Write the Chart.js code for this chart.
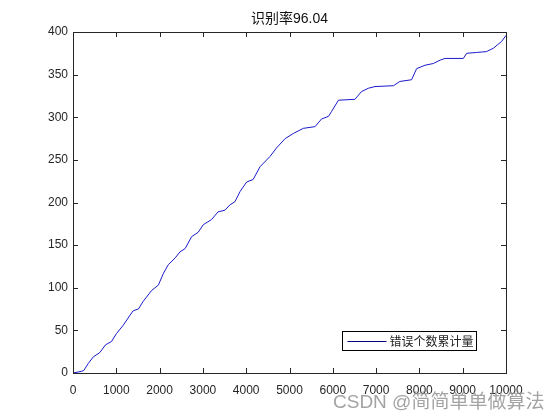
<!DOCTYPE html>
<html>
<head>
<meta charset="utf-8">
<script src="https://cdn.jsdelivr.net/npm/chart.js@4"></script>
<style>
  html, body { margin: 0; padding: 0; background: #fff; }
  #wrap { width: 560px; height: 420px; }
</style>
</head>
<body>
<div id="wrap"><canvas id="errChart" width="560" height="420"></canvas></div>
<script>
// cumulative error count
const sampleIdx = [0, 200, 250, 350, 470, 620, 750, 890, 1000, 1160, 1320, 1390, 1510, 1620, 1820, 1970, 2090, 2200, 2360, 2470, 2590, 2740, 2890, 3010, 3200, 3350, 3510, 3620, 3740, 3860, 4010, 4160, 4320, 4550, 4700, 4900, 5090, 5320, 5590, 5740, 5900, 5975, 6130, 6510, 6660, 6820, 6975, 7400, 7550, 7820, 7935, 8130, 8320, 8480, 8590, 9015, 9090, 9320, 9550, 9710, 9900, 10000];
const errCount = [0, 2, 3, 11, 19, 24, 33, 37, 46, 56, 68, 73, 75, 84, 97, 103, 117, 127, 135, 142, 146, 160, 165, 174, 180, 189, 191, 197, 201, 213, 224, 227, 242, 254, 264, 275, 281, 287, 289, 298, 301, 307, 320, 321, 330, 334, 336, 337, 342, 344, 357, 361, 363, 367, 369, 369, 375, 376, 377, 381, 389, 396];
const xTicks = [0, 1000, 2000, 3000, 4000, 5000, 6000, 7000, 8000, 9000, 10000];
const yTicks = [0, 50, 100, 150, 200, 250, 300, 350, 400];
const seriesName = '错误个数累计量';
const chartTitle = '识别率96.04';
const watermark = 'CSDN @简简单单做算法';

const points = sampleIdx.map((x, i) => ({ x: x, y: errCount[i] }));

// matlab style box: inward ticks on all four sides, title, legend inside, watermark
const matlabBox = {
    id: 'matlabBox',
    afterDraw(chart) {
        const ctx = chart.ctx;
        const a = chart.chartArea;
        const xs = chart.scales.x, ys = chart.scales.y;
        ctx.save();
        ctx.strokeStyle = '#262626';
        ctx.lineWidth = 1;
        ctx.beginPath();
        xTicks.forEach(v => {
            const px = Math.round(xs.getPixelForValue(v)) + 0.5;
            ctx.moveTo(px, a.bottom); ctx.lineTo(px, a.bottom - 5);
            ctx.moveTo(px, a.top); ctx.lineTo(px, a.top + 5);
        });
        yTicks.forEach(v => {
            const py = Math.round(ys.getPixelForValue(v)) + 0.5;
            ctx.moveTo(a.left, py); ctx.lineTo(a.left + 5, py);
            ctx.moveTo(a.right, py); ctx.lineTo(a.right - 5, py);
        });
        ctx.stroke();
        ctx.strokeRect(Math.round(a.left) + 0.5, Math.round(a.top) + 0.5,
            Math.round(a.right - a.left), Math.round(a.bottom - a.top));

        // title over the axes box
        ctx.fillStyle = '#111';
        ctx.font = '14px "Liberation Sans", "Noto Sans CJK SC"';
        ctx.textAlign = 'center';
        ctx.textBaseline = 'alphabetic';
        ctx.fillText(chartTitle, (a.left + a.right) / 2, 23);

        // legend box
        const lx = 342.5, ly = 331.5, lw = 134, lh = 19;
        ctx.fillStyle = '#fff';
        ctx.fillRect(lx, ly, lw, lh);
        ctx.strokeStyle = '#000';
        ctx.strokeRect(lx, ly, lw, lh);
        ctx.strokeStyle = '#000080';
        ctx.beginPath();
        ctx.moveTo(lx + 5, ly + 10); ctx.lineTo(lx + 44, ly + 10);
        ctx.stroke();
        ctx.fillStyle = '#222';
        ctx.font = '12px "Noto Sans CJK SC"';
        ctx.textBaseline = 'middle';
        ctx.textAlign = 'left';
        ctx.fillText(chart.data.datasets[0].label, lx + 47, ly + 10);

        // watermark
        ctx.fillStyle = 'rgba(140,140,140,0.8)';
        ctx.font = '19px "Liberation Sans", "Noto Sans CJK SC"';
        ctx.textBaseline = 'alphabetic';
        ctx.fillText(watermark, 333, 408);
        ctx.restore();
    }
};

const tickFont = { family: '"Liberation Sans", Arial', size: 12 };

new Chart(document.getElementById('errChart').getContext('2d'), {
    type: 'line',
    data: {
        datasets: [{
            label: seriesName,
            data: points,
            borderColor: '#1a1acc',
            borderWidth: 1,
            pointRadius: 0,
            tension: 0,
            fill: false
        }]
    },
    options: {
        responsive: false,
        animation: false,
        layout: { padding: { left: 0, right: 54, top: 32, bottom: 0 } },
        plugins: {
            legend: { display: false },
            tooltip: { enabled: false },
            title: { display: false }
        },
        scales: {
            x: {
                type: 'linear',
                min: 0,
                max: 10000,
                grid: { display: false, drawTicks: false },
                border: { display: false },
                afterFit: s => { s.height = 47; },
                afterBuildTicks: s => { s.ticks = xTicks.map(v => ({ value: v })); },
                ticks: { color: '#262626', font: tickFont, padding: 10, maxRotation: 0, autoSkip: false,
                         callback: v => String(v) }
            },
            y: {
                type: 'linear',
                min: 0,
                max: 400,
                grid: { display: false, drawTicks: false },
                border: { display: false },
                afterFit: s => { s.width = 73; },
                afterBuildTicks: s => { s.ticks = yTicks.map(v => ({ value: v })); },
                ticks: { color: '#262626', font: tickFont, padding: 5, autoSkip: false,
                         callback: v => String(v) }
            }
        }
    },
    plugins: [matlabBox]
});
</script>
</body>
</html>
